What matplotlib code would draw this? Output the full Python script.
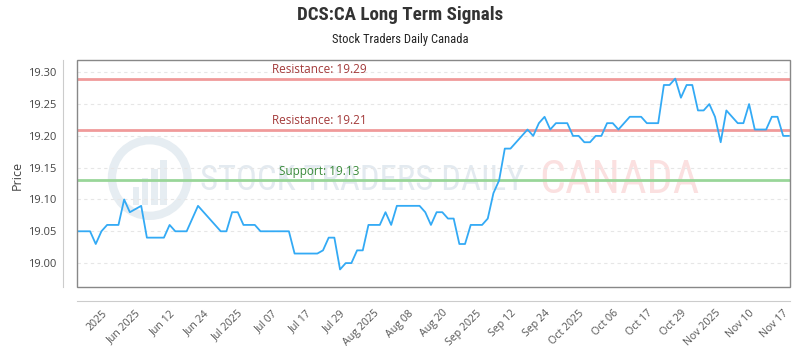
import matplotlib
matplotlib.use("Agg")
import matplotlib.pyplot as plt
from matplotlib import font_manager
from matplotlib.patches import Rectangle, Ellipse
import numpy as np

title = "DCS:CA Long Term Signals"
subtitle = "Stock Traders Daily Canada"

# daily closes, one per trading session
prices = [
    19.05, 19.05, 19.05, 19.03, 19.05, 19.06, 19.06, 19.06, 19.10, 19.08,
    19.085, 19.09, 19.04, 19.04, 19.04, 19.04, 19.06, 19.05, 19.05, 19.05,
    19.07, 19.09, 19.08, 19.07, 19.06, 19.05, 19.05, 19.08, 19.08, 19.06,
    19.06, 19.06, 19.05, 19.05, 19.05, 19.05, 19.05, 19.05, 19.015, 19.015,
    19.015, 19.015, 19.015, 19.02, 19.04, 19.04, 18.99, 19.00, 19.00, 19.02,
    19.02, 19.06, 19.06, 19.06, 19.08, 19.06, 19.09, 19.09, 19.09, 19.09,
    19.09, 19.08, 19.06, 19.08, 19.08, 19.07, 19.07, 19.03, 19.03, 19.06,
    19.06, 19.06, 19.07, 19.11, 19.13, 19.18, 19.18, 19.19, 19.20, 19.21,
    19.20, 19.22, 19.23, 19.21, 19.22, 19.22, 19.22, 19.20, 19.20, 19.19,
    19.19, 19.20, 19.20, 19.22, 19.22, 19.21, 19.22, 19.23, 19.23, 19.23,
    19.22, 19.22, 19.22, 19.28, 19.28, 19.29, 19.26, 19.28, 19.28, 19.24,
    19.24, 19.25, 19.23, 19.19, 19.24, 19.23, 19.22, 19.22, 19.25, 19.21,
    19.21, 19.21, 19.23, 19.23, 19.20, 19.20,
]

tick_labels = ["2025", "Jun 2025", "Jun 12", "Jun 24", "Jul 2025", "Jul 07",
               "Jul 17", "Jul 29", "Aug 2025", "Aug 08", "Aug 20", "Sep 2025",
               "Sep 12", "Sep 24", "Oct 2025", "Oct 06", "Oct 17", "Oct 29",
               "Nov 2025", "Nov 10", "Nov 17"]

resistance = [19.29, 19.21]
support = [19.13]

y_ticks = [19.00, 19.05, 19.10, 19.15, 19.20, 19.25, 19.30]


def has_font(name):
    try:
        font_manager.findfont(name, fallback_to_default=False)
        return True
    except Exception:
        return False


narrow = None
for f in ["Roboto Condensed", "Liberation Sans Narrow", "Open Sans Condensed", "DejaVu Sans Condensed"]:
    if has_font(f):
        narrow = f
        break

if narrow:
    head_font = [narrow, "DejaVu Sans"]
    title_size, sub_size, wm_size, wm2_size = 13.7, 9, 25, 33
else:
    head_font = ["Open Sans", "DejaVu Sans"]
    title_size, sub_size, wm_size, wm2_size = 11, 8, 20.5, 25

fig = plt.figure(figsize=(8, 3.5), dpi=100)
ax = fig.add_axes([77/800, 63/350, 713/800, 227/350])

x = np.arange(len(prices))

# spines first: moving them resets the tick objects
ax.spines["top"].set_visible(False)
ax.spines["right"].set_visible(False)
for side in ["left", "bottom"]:
    ax.spines[side].set_position(("outward", 10))
    ax.spines[side].set_color("#cccccc")
ax.add_patch(Rectangle((0, 0), 1, 1, transform=ax.transAxes, fill=False,
                       ec="#888888", lw=1, clip_on=False, zorder=4))

# watermark
ax.add_patch(Ellipse((0.102, 0.48), 0.106, 0.333, transform=ax.transAxes, fill=False,
                     ec="#e6edf2", lw=6, zorder=0))
for i, h in enumerate([0.08, 0.12, 0.16, 0.2]):
    ax.add_patch(Rectangle((0.078 + i * 0.013, 0.36), 0.009, h, transform=ax.transAxes,
                           color="#e6edf2", lw=0, zorder=0))
ax.text(0.1725, 0.47, "STOCK TRADERS DAILY", transform=ax.transAxes,
        family=head_font, fontsize=wm_size,
        color="#e3eaf0", va="center", ha="left", zorder=0)
ax.text(0.649, 0.47, "CANADA", transform=ax.transAxes,
        family=head_font, fontsize=wm2_size,
        color="#fbe0e0", va="center", ha="left", zorder=0)

for yv in y_ticks:
    ax.axhline(yv, color="#e6e6e6", lw=0.8, ls=(0, (3, 3)), zorder=1)

for r in resistance:
    ax.axhline(r, color="#f09a9a", lw=2, zorder=2)
    ax.text(0.34, r + 0.004, "Resistance: %.2f" % r, transform=ax.get_yaxis_transform(),
            ha="center", va="bottom", fontsize=8.5, color="#a33a3a", family="Open Sans")
for s in support:
    ax.axhline(s, color="#99d699", lw=2, zorder=2)
    ax.text(0.34, s + 0.004, "Support: %.2f" % s, transform=ax.get_yaxis_transform(),
            ha="center", va="bottom", fontsize=8.5, color="#3a8a3a", family="Open Sans")

ax.plot(x, prices, color="#33aaf5", lw=1.3, zorder=3)

ax.set_xlim(-0.3, 125.2)
ax.set_ylim(18.9624, 19.3193)

ax.tick_params(axis="both", length=0)
ax.tick_params(axis="y", pad=5)
ax.tick_params(axis="x", pad=5)
ax.set_yticks(y_ticks)
ax.set_yticklabels(["%.2f" % v for v in y_ticks])
ax.set_xticks(np.arange(4, 4 + 6 * len(tick_labels), 6))
ax.set_xticklabels(tick_labels)
plt.setp(ax.get_yticklabels(), family="Open Sans", fontsize=8, color="#444444")
plt.setp(ax.get_xticklabels(), family="Open Sans", fontsize=7.7, color="#555555",
         rotation=45, ha="right", rotation_mode="anchor")

fig.text(17/800, 1 - 175/350, "Price", rotation=90, ha="center", va="center",
         fontsize=9, color="#444444", family="Open Sans")
fig.text(0.5, 1 - 15/350, title, ha="center", va="center", fontsize=title_size,
         fontweight="bold", color="#333333", family=head_font)
fig.text(0.5, 1 - 40/350, subtitle, ha="center", va="center", fontsize=sub_size,
         color="#222222", family=head_font)

fig.savefig("out.png", dpi=100)
